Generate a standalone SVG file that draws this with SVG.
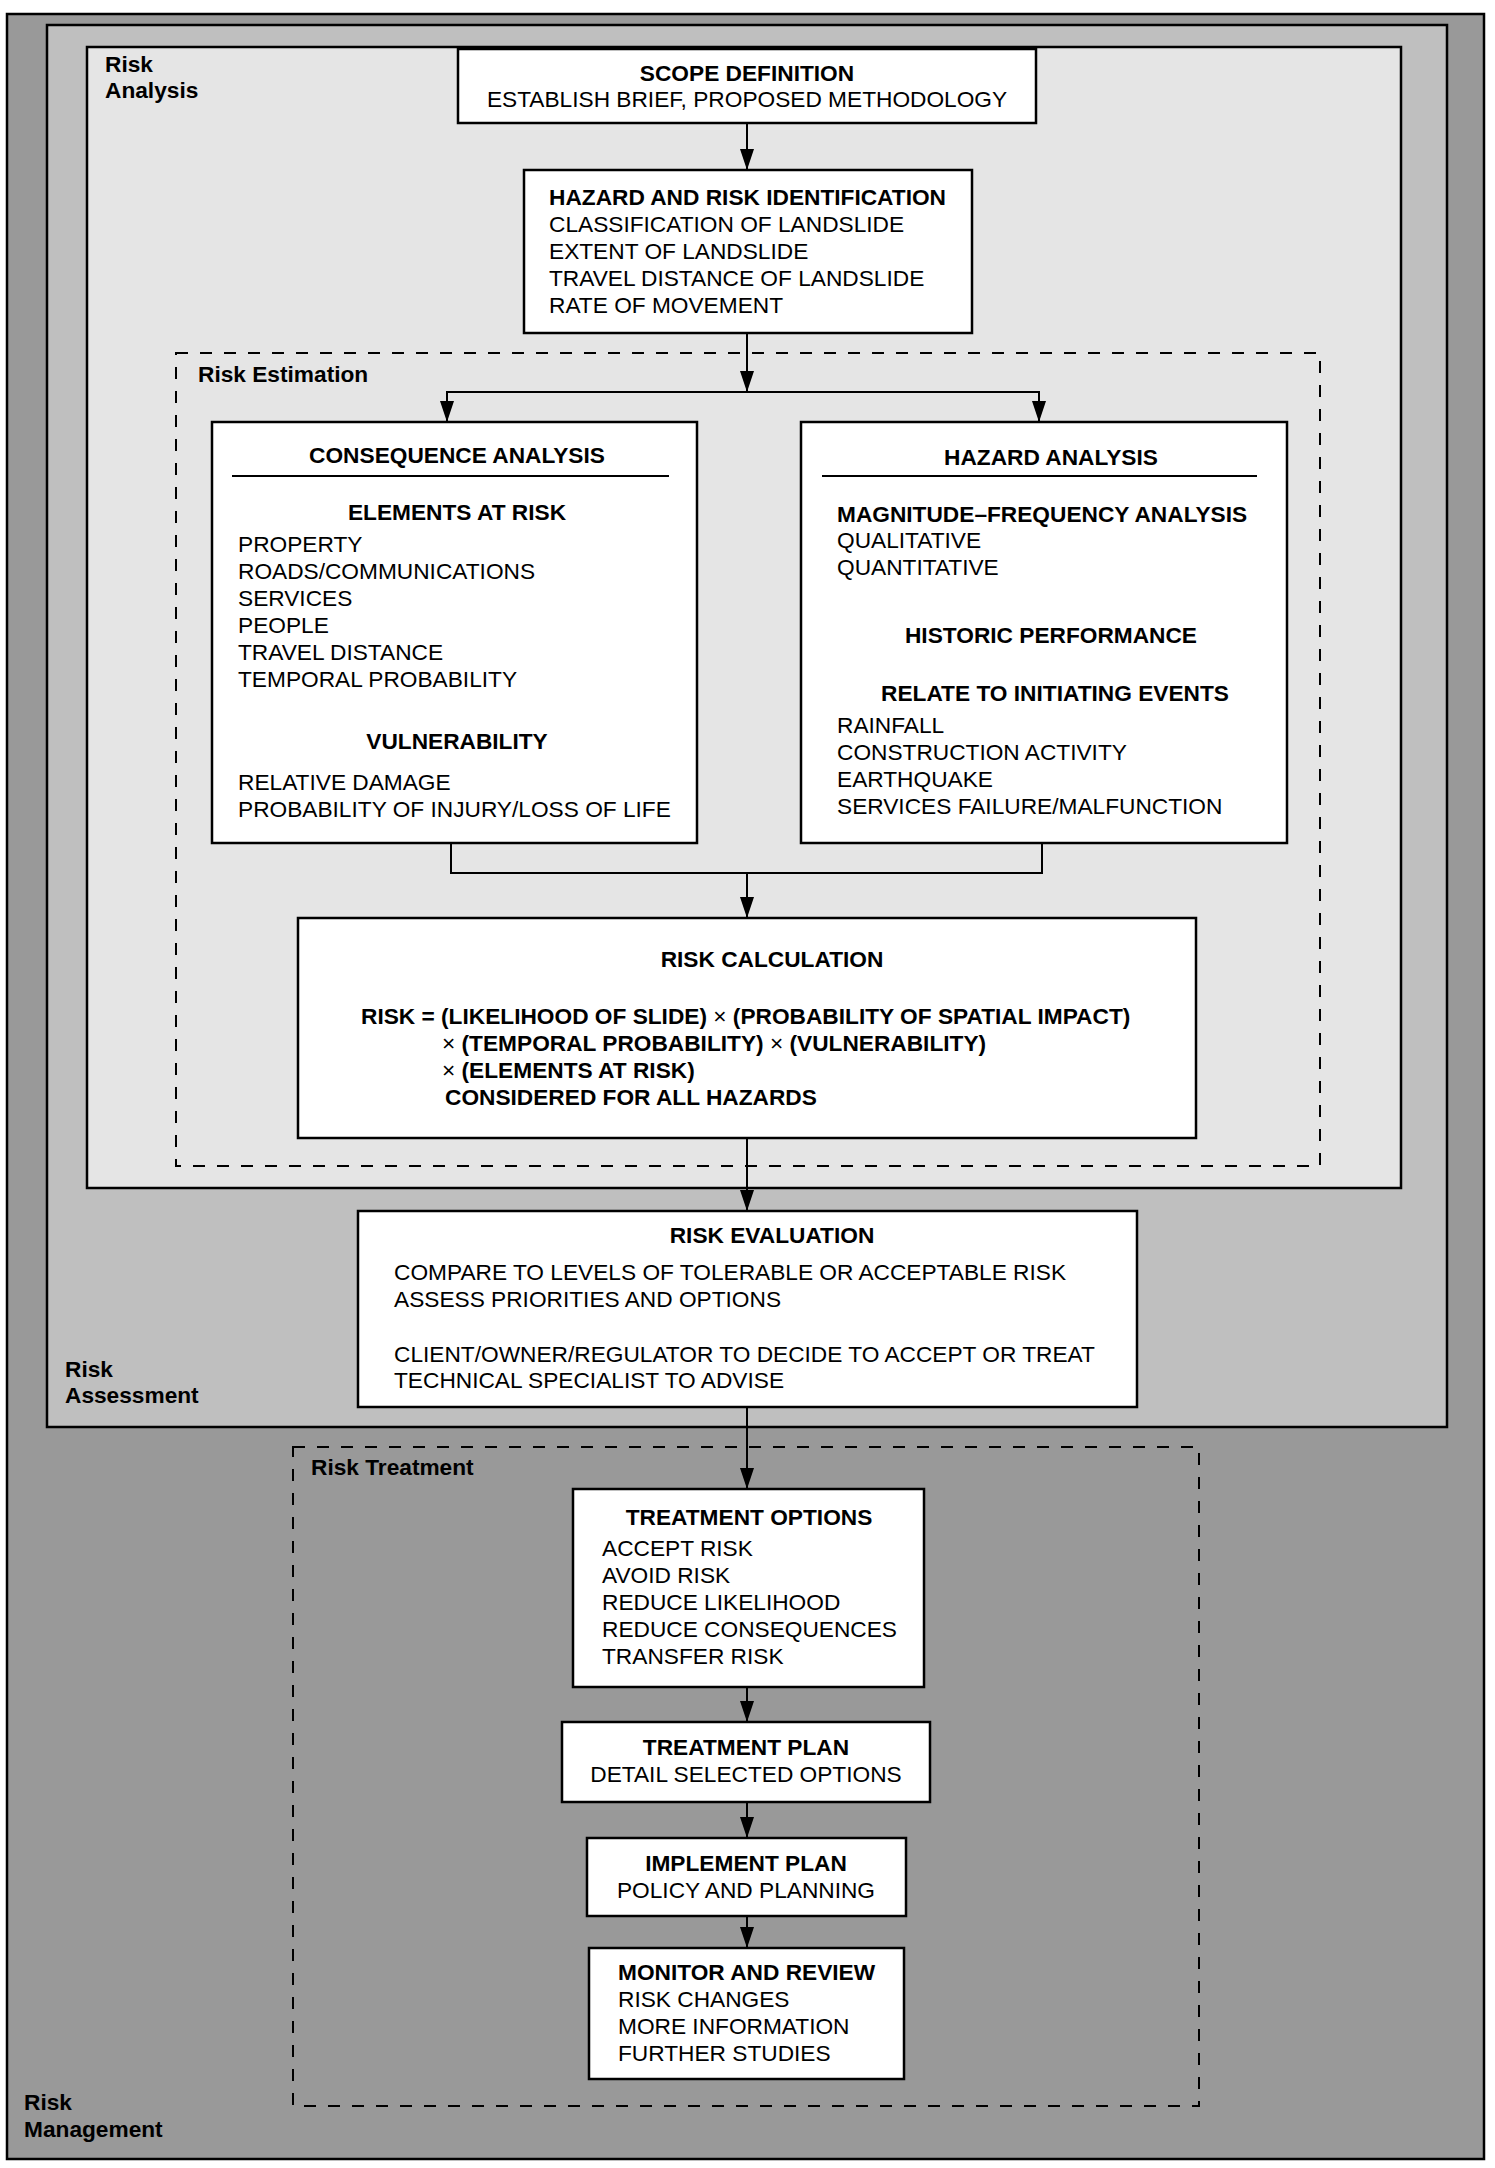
<svg xmlns="http://www.w3.org/2000/svg" width="1495" height="2168" viewBox="0 0 1495 2168">
  <style>
    text { font-family: "Liberation Sans", Arial, Helvetica, sans-serif; font-size: 22.7px; fill: #000; }
    .b { font-weight: bold; }
    .c { text-anchor: middle; }
    .x { font-weight: normal; }
    .box { fill: #fff; stroke: #000; stroke-width: 2.5; }
    .zone { stroke: #000; stroke-width: 2.5; }
    .dash { fill: none; stroke: #000; stroke-width: 2; stroke-dasharray: 12 12; }
    .conn { fill: none; stroke: #000; stroke-width: 2; }
    .rule { stroke: #000; stroke-width: 2; }
  </style>
  <defs>
    <marker id="ah" markerUnits="userSpaceOnUse" markerWidth="21" markerHeight="14" refX="21" refY="7" orient="auto" viewBox="0 0 21 14">
      <path d="M0,0 L21,7 L0,14 Z" fill="#000"/>
    </marker>
  </defs>

  <rect width="1495" height="2168" fill="#fff"/>

  <!-- Zones -->
  <g id="risk-management">
    <rect class="zone" x="7" y="14" width="1477" height="2145" fill="#999999"/>
    <text class="b" x="24" y="2110">Risk</text>
    <text class="b" x="24" y="2137">Management</text>
  </g>
  <g id="risk-assessment">
    <rect class="zone" x="47" y="25" width="1400" height="1402" fill="#bfbfbf"/>
    <text class="b" x="65" y="1377">Risk</text>
    <text class="b" x="65" y="1403">Assessment</text>
  </g>
  <g id="risk-analysis">
    <rect class="zone" x="87" y="47" width="1314" height="1141" fill="#e5e5e5"/>
    <text class="b" x="105" y="72">Risk</text>
    <text class="b" x="105" y="98">Analysis</text>
  </g>
  <g id="risk-estimation">
    <rect class="dash" x="176" y="353" width="1144" height="813"/>
    <text class="b" x="198" y="382">Risk Estimation</text>
  </g>
  <g id="risk-treatment">
    <rect class="dash" x="293" y="1447" width="906" height="659"/>
    <text class="b" x="311" y="1475">Risk Treatment</text>
  </g>

  <!-- Connectors -->
  <g id="connectors">
    <line class="conn" x1="747" y1="123" x2="747" y2="170" marker-end="url(#ah)"/>
    <line class="conn" x1="747" y1="333" x2="747" y2="392" marker-end="url(#ah)"/>
    <polyline class="conn" points="447,410 447,392 1039,392 1039,410"/>
    <line class="conn" x1="447" y1="400" x2="447" y2="422" marker-end="url(#ah)"/>
    <line class="conn" x1="1039" y1="400" x2="1039" y2="422" marker-end="url(#ah)"/>
    <polyline class="conn" points="451,843 451,873 1042,873 1042,843"/>
    <line class="conn" x1="747" y1="873" x2="747" y2="918" marker-end="url(#ah)"/>
    <line class="conn" x1="747" y1="1138" x2="747" y2="1211" marker-end="url(#ah)"/>
    <line class="conn" x1="747" y1="1407" x2="747" y2="1489" marker-end="url(#ah)"/>
    <line class="conn" x1="747" y1="1687" x2="747" y2="1722" marker-end="url(#ah)"/>
    <line class="conn" x1="747" y1="1802" x2="747" y2="1838" marker-end="url(#ah)"/>
    <line class="conn" x1="747" y1="1916" x2="747" y2="1948" marker-end="url(#ah)"/>
  </g>

  <!-- Nodes -->
  <g id="scope-definition">
    <rect class="box" x="458" y="49" width="578" height="74"/>
    <text class="b c" x="747" y="81">SCOPE DEFINITION</text>
    <text class="c" x="747" y="107">ESTABLISH BRIEF, PROPOSED METHODOLOGY</text>
  </g>

  <g id="hazard-risk-identification">
    <rect class="box" x="524" y="170" width="448" height="163"/>
    <text class="b" x="549" y="205">HAZARD AND RISK IDENTIFICATION</text>
    <text x="549" y="232">CLASSIFICATION OF LANDSLIDE</text>
    <text x="549" y="259">EXTENT OF LANDSLIDE</text>
    <text x="549" y="286">TRAVEL DISTANCE OF LANDSLIDE</text>
    <text x="549" y="313">RATE OF MOVEMENT</text>
  </g>

  <g id="consequence-analysis">
    <rect class="box" x="212" y="422" width="485" height="421"/>
    <text class="b c" x="457" y="463">CONSEQUENCE ANALYSIS</text>
    <line class="rule" x1="232" y1="476" x2="669" y2="476"/>
    <text class="b c" x="457" y="520">ELEMENTS AT RISK</text>
    <text x="238" y="552">PROPERTY</text>
    <text x="238" y="579">ROADS/COMMUNICATIONS</text>
    <text x="238" y="606">SERVICES</text>
    <text x="238" y="633">PEOPLE</text>
    <text x="238" y="660">TRAVEL DISTANCE</text>
    <text x="238" y="687">TEMPORAL PROBABILITY</text>
    <text class="b c" x="457" y="749">VULNERABILITY</text>
    <text x="238" y="790">RELATIVE DAMAGE</text>
    <text x="238" y="817">PROBABILITY OF INJURY/LOSS OF LIFE</text>
  </g>

  <g id="hazard-analysis">
    <rect class="box" x="801" y="422" width="486" height="421"/>
    <text class="b c" x="1051" y="465">HAZARD ANALYSIS</text>
    <line class="rule" x1="822" y1="476" x2="1257" y2="476"/>
    <text class="b" x="837" y="522">MAGNITUDE–FREQUENCY ANALYSIS</text>
    <text x="837" y="548">QUALITATIVE</text>
    <text x="837" y="575">QUANTITATIVE</text>
    <text class="b c" x="1051" y="643">HISTORIC PERFORMANCE</text>
    <text class="b c" x="1055" y="701">RELATE TO INITIATING EVENTS</text>
    <text x="837" y="733">RAINFALL</text>
    <text x="837" y="760">CONSTRUCTION ACTIVITY</text>
    <text x="837" y="787">EARTHQUAKE</text>
    <text x="837" y="814">SERVICES FAILURE/MALFUNCTION</text>
  </g>

  <g id="risk-calculation">
    <rect class="box" x="298" y="918" width="898" height="220"/>
    <text class="b c" x="772" y="967">RISK CALCULATION</text>
    <text class="b" x="361" y="1024">RISK = (LIKELIHOOD OF SLIDE) <tspan class="x">×</tspan> (PROBABILITY OF SPATIAL IMPACT)</text>
    <text class="b" x="442" y="1051"><tspan class="x">×</tspan> (TEMPORAL PROBABILITY) <tspan class="x">×</tspan> (VULNERABILITY)</text>
    <text class="b" x="442" y="1078"><tspan class="x">×</tspan> (ELEMENTS AT RISK)</text>
    <text class="b" x="445" y="1105">CONSIDERED FOR ALL HAZARDS</text>
  </g>

  <g id="risk-evaluation">
    <rect class="box" x="358" y="1211" width="779" height="196"/>
    <text class="b c" x="772" y="1243">RISK EVALUATION</text>
    <text x="394" y="1280">COMPARE TO LEVELS OF TOLERABLE OR ACCEPTABLE RISK</text>
    <text x="394" y="1307">ASSESS PRIORITIES AND OPTIONS</text>
    <text x="394" y="1362">CLIENT/OWNER/REGULATOR TO DECIDE TO ACCEPT OR TREAT</text>
    <text x="394" y="1388">TECHNICAL SPECIALIST TO ADVISE</text>
  </g>

  <g id="treatment-options">
    <rect class="box" x="573" y="1489" width="351" height="198"/>
    <text class="b c" x="749" y="1525">TREATMENT OPTIONS</text>
    <text x="602" y="1556">ACCEPT RISK</text>
    <text x="602" y="1583">AVOID RISK</text>
    <text x="602" y="1610">REDUCE LIKELIHOOD</text>
    <text x="602" y="1637">REDUCE CONSEQUENCES</text>
    <text x="602" y="1664">TRANSFER RISK</text>
  </g>

  <g id="treatment-plan">
    <rect class="box" x="562" y="1722" width="368" height="80"/>
    <text class="b c" x="746" y="1755">TREATMENT PLAN</text>
    <text class="c" x="746" y="1782">DETAIL SELECTED OPTIONS</text>
  </g>

  <g id="implement-plan">
    <rect class="box" x="587" y="1838" width="319" height="78"/>
    <text class="b c" x="746" y="1871">IMPLEMENT PLAN</text>
    <text class="c" x="746" y="1898">POLICY AND PLANNING</text>
  </g>

  <g id="monitor-review">
    <rect class="box" x="589" y="1948" width="315" height="131"/>
    <text class="b" x="618" y="1980">MONITOR AND REVIEW</text>
    <text x="618" y="2007">RISK CHANGES</text>
    <text x="618" y="2034">MORE INFORMATION</text>
    <text x="618" y="2061">FURTHER STUDIES</text>
  </g>
</svg>
